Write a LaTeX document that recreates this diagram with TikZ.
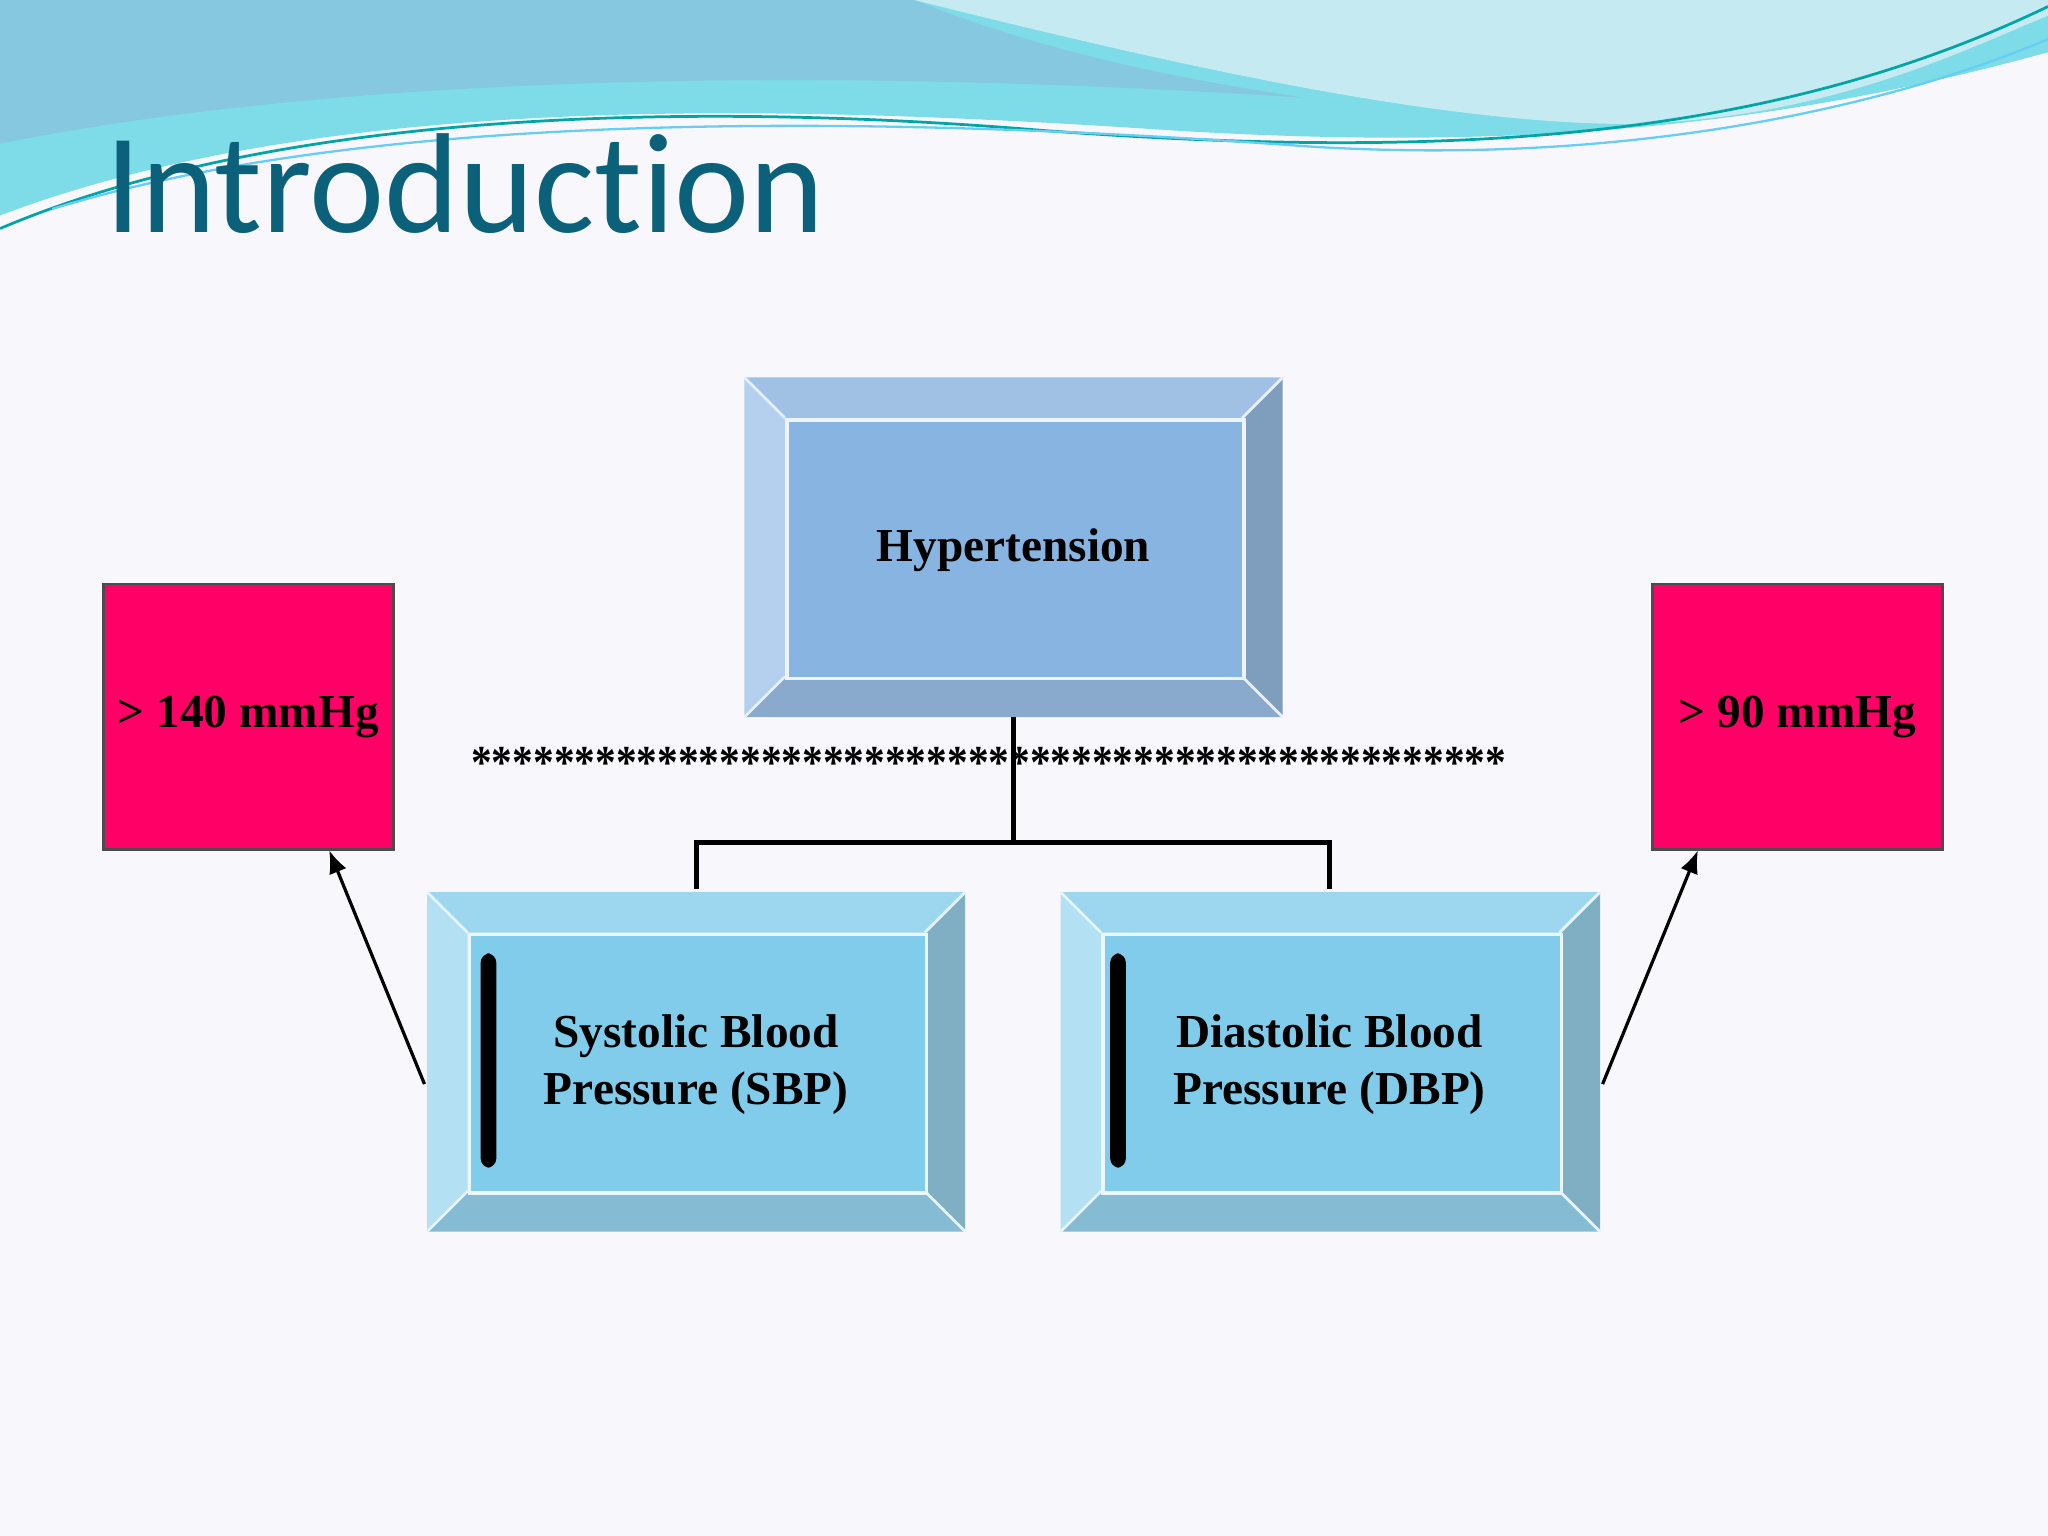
\documentclass[tikz,border=0pt]{standalone}
\usepackage{fontspec}
\setmainfont{Liberation Serif}
\newfontfamily\titlefont{Carlito}[Ligatures=NoCommon]
\usetikzlibrary{arrows.meta}
\definecolor{bg}{HTML}{F8F8FC}
\definecolor{titlec}{HTML}{0B6179}
\definecolor{pinkc}{HTML}{FF0066}
\definecolor{wave1}{HTML}{86C8DF}
\definecolor{wave2}{HTML}{7DDCE8}
\definecolor{wave3}{HTML}{C6EAF2}
\definecolor{hC}{RGB}{136,180,226}
\definecolor{hT}{RGB}{160,192,228}
\definecolor{hL}{RGB}{180,208,238}
\definecolor{hR}{RGB}{127,157,188}
\definecolor{hB}{RGB}{138,170,205}
\definecolor{sC}{RGB}{128,204,234}
\definecolor{sT}{RGB}{157,214,239}
\definecolor{sL}{RGB}{179,224,242}
\definecolor{sR}{RGB}{128,175,196}
\definecolor{sB}{RGB}{134,187,212}
\tikzset{
  lbl/.style={font=\bfseries\fontsize{10.3}{12.5}\selectfont, align=center, text=black},
  pink/.style={draw=black!70, line width=0.6pt, fill=pinkc, minimum width=2.22cm, minimum height=2.03cm, anchor=north west, inner sep=0pt},
  conn/.style={line width=1.1pt, draw=black},
  arr/.style={line width=0.7pt, -{Latex[length=5pt,width=4pt]}},
}
\newcommand{\bevbox}[6]{%
  \fill[#6T] (#2,#3) -- (#4,#3) -- (#4-31,#3+31) -- (#2+31,#3+31) -- cycle;
  \fill[#6L] (#2,#3) -- (#2+31,#3+31) -- (#2+31,#5-31) -- (#2,#5) -- cycle;
  \fill[#6R] (#4,#3) -- (#4-31,#3+31) -- (#4-31,#5-31) -- (#4,#5) -- cycle;
  \fill[#6B] (#2,#5) -- (#2+31,#5-31) -- (#4-31,#5-31) -- (#4,#5) -- cycle;
  \node[fill=#6C, draw=white!85!#6C, line width=0.8pt, anchor=north west, inner sep=0pt,
    minimum width={(#4-#2-62)*0.01cm}, minimum height={(#5-#3-62)*0.01cm}] (#1) at (#2+31,#3+31) {};
  \draw[white!80!#6C, line width=0.6pt] (#2,#3) -- (#2+31,#3+31) (#4,#3) -- (#4-31,#3+31) (#2,#5) -- (#2+31,#5-31) (#4,#5) -- (#4-31,#5-31);
}
\begin{document}
\begin{tikzpicture}[x=0.01cm,y=-0.01cm]
\fill[bg] (0,0) rectangle (1568,1176);
\useasboundingbox (0,0) rectangle (1568,1176);
% top waves
\fill[wave2] (0,0) -- (1568,0) -- (1568,40) .. controls (1350,100) and (1150,115) .. (900,100) .. controls (600,80) and (250,70) .. (0,165) -- cycle;
\fill[wave1] (0,0) -- (700,0) .. controls (800,40) and (900,60) .. (1000,75) .. controls (700,55) and (300,50) .. (0,110) -- cycle;
\fill[wave3] (700,0) .. controls (900,50) and (1100,95) .. (1250,95) .. controls (1400,90) and (1500,40) .. (1568,12) -- (1568,0) -- cycle;
\draw[teal!70!cyan, line width=0.6pt] (0,175) .. controls (200,90) and (500,75) .. (800,100) .. controls (1100,122) and (1350,110) .. (1568,5);
\draw[cyan!60, line width=0.5pt] (40,160) .. controls (300,80) and (700,90) .. (1000,112) .. controls (1250,128) and (1450,80) .. (1568,30);
% title
\node[anchor=base west, inner sep=0pt, text=titlec, font=\titlefont\fontsize{31}{34}\selectfont] (title) at (80,178) {Introduction};
% boxes
\bevbox{hyp}{570}{289}{982}{549}{h}
\bevbox{sbp}{327}{683}{739}{943}{s}
\bevbox{dbp}{812}{683}{1225}{943}{s}
\node[lbl] (hyptxt) at (776,421) {Hypertension};
\node[lbl] (sbptxt) at (533,815) {Systolic Blood\\Pressure (SBP)};
\node[lbl] (dbptxt) at (1018,815) {Diastolic Blood\\Pressure (DBP)};
\fill[black, rounded corners=2pt] (368,730) rectangle (380,894);
\fill[black, rounded corners=2pt] (850,730) rectangle (862,894);
% pink boxes
\node[pink] (p1) at (78,446) {};
\node[pink] (p2) at (1264,446) {};
\node[lbl] (p1t) at (p1.center) {> 140 mmHg};
\node[lbl] (p2t) at (p2.center) {> 90 mmHg};
% connectors
\coordinate (top) at (776,549);
\coordinate (j) at (776,645);
\draw[conn] (top) -- (j);
\draw[conn] (j) -| (533,681);
\draw[conn] (j) -| (1018,681);
\node[font=\bfseries\fontsize{10.3}{12}\selectfont, inner sep=0pt] (stars) at (757,584) {\scalebox{0.875}[1]{**************************************************}};
\coordinate (a1s) at (325,830);
\coordinate (a1e) at (252,651);
\coordinate (a2s) at (1227,830);
\coordinate (a2e) at (1300,651);
\draw[arr] (a1s) -- (a1e);
\draw[arr] (a2s) -- (a2e);
\end{tikzpicture}
\end{document}
